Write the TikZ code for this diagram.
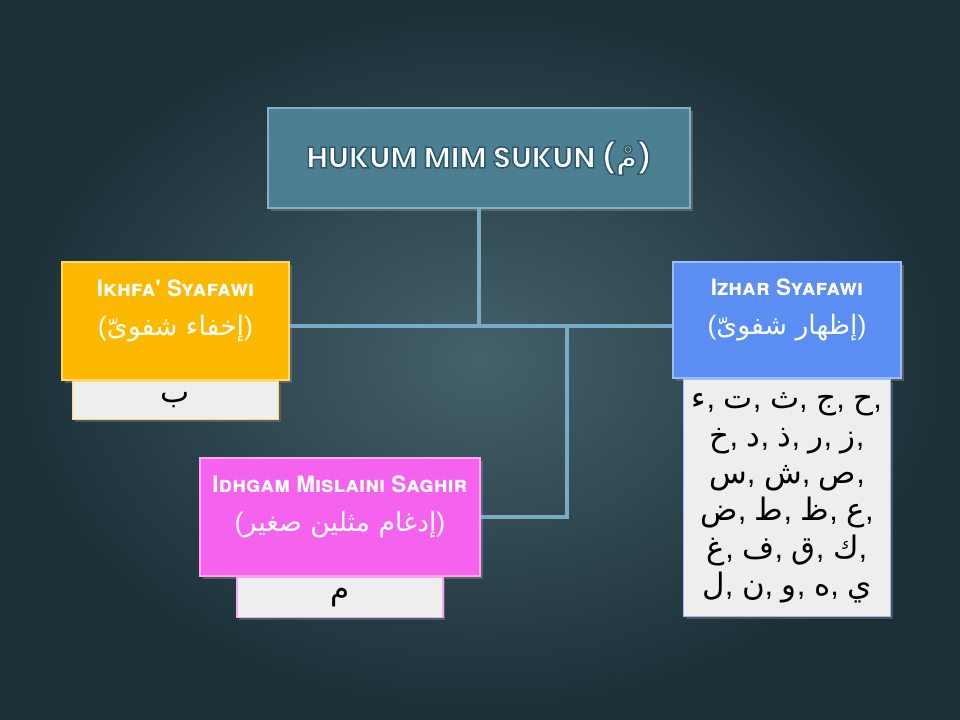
\documentclass[tikz,border=0pt]{standalone}
\usepackage{fontspec}
\usetikzlibrary{positioning,shadows}
\TeXXeTstate=1
\setmainfont{Liberation Sans}
\newfontfamily\arabicfont[Script=Arabic]{DejaVu Sans}
\newfontfamily\titlefont{Poppins}
\newfontfamily\labelfont{TeX Gyre Heros}
\newcommand\harf[1]{{\arabicfont #1}}
% white letters with a dark rim, as in the heading
\newcommand\hollow[1]{\special{pdf:code 2 Tr 1.1 w 0.18 0.35 0.42 RG}#1\special{pdf:code 0 Tr}}
\newcommand\jenis[2]{\raisebox{7pt}[\height][\depth]{%
  \begin{tabular}{@{}c@{}}
  {\labelfont\bfseries\scshape\fontsize{16}{19}\selectfont #1}\\[10pt]
  {\fontsize{19}{22}\selectfont(#2)}
  \end{tabular}}}
\definecolor{bgouter}{HTML}{1B2F36}
\definecolor{bginner}{HTML}{44616C}
\definecolor{titlefill}{HTML}{4D7F92}
\definecolor{titleedge}{HTML}{7FB2C6}
\definecolor{ikhfafill}{HTML}{FDB902}
\definecolor{ikhfaedge}{HTML}{FFD870}
\definecolor{izharfill}{HTML}{5A8EF2}
\definecolor{izharedge}{HTML}{9CBDFA}
\definecolor{idghamfill}{HTML}{F563EE}
\definecolor{idghamedge}{HTML}{FBA6F7}
\definecolor{listfill}{HTML}{EEEEEE}
\definecolor{linkcolor}{HTML}{7AAAC4}
\tikzset{
  hukumbox/.style={draw, line width=1.2pt, inner sep=0pt, align=center,
    text=white, drop shadow={shadow xshift=2pt, shadow yshift=-2pt, opacity=0.55}},
  listbox/.style={draw, line width=0.8pt, fill=listfill, inner sep=0pt,
    align=center, text=black,
    font=\arabicfont\fontsize{22}{26.5}\selectfont,
    drop shadow={shadow xshift=1.5pt, shadow yshift=-1.5pt, opacity=0.45}},
  link/.style={draw=linkcolor, line width=3pt}
}
\begin{document}
\begin{tikzpicture}[x=0.025cm,y=-0.025cm]
  % background
  \shade[inner color=bginner, outer color=bgouter] (0,0) rectangle (960,720);
  \useasboundingbox (0,0) rectangle (960,720);

  % main heading
  \node[hukumbox, fill=titlefill, draw=titleedge, minimum width=10.55cm,
    minimum height=2.5cm, font=\titlefont\bfseries\fontsize{21}{24}\selectfont]
    (hukum) at (479,158)
    {\hollow{HUKUM MIM SUKUN (\harf{مْ})}};

  % the three rules
  \node[hukumbox, fill=ikhfafill, draw=ikhfaedge, minimum width=5.675cm,
    minimum height=2.95cm] (ikhfa) at (175.5,321)
    {\jenis{Ikhfa' Syafawi}{\beginR\harf{إخفاء شفوىّ}\endR}};
  \node[listbox, draw=ikhfaedge, minimum width=5.15cm, minimum height=0.95cm,
    below=0pt of ikhfa] (ikhfalist) {ب};

  \node[hukumbox, fill=izharfill, draw=izharedge, minimum width=5.7cm,
    minimum height=2.9cm] (izhar) at (787,320)
    {\jenis{Izhar Syafawi}{\beginR\harf{إظهار شفوىّ}\endR}};
  \node[listbox, draw=izharedge, minimum width=5.175cm, minimum height=5.925cm,
    font=\fontsize{22}{26.5}\selectfont, below=0pt of izhar] (izharlist)
    {\harf{ء}, \harf{ت}, \harf{ث}, \harf{ج}, \harf{ح},\\
     \harf{خ}, \harf{د}, \harf{ذ}, \harf{ر}, \harf{ز},\\
     \harf{س}, \harf{ش}, \harf{ص},\\
     \harf{ض}, \harf{ط}, \harf{ظ}, \harf{ع},\\
     \harf{غ}, \harf{ف}, \harf{ق}, \harf{ك},\\
     \harf{ل}, \harf{ن}, \harf{و}, \harf{ه}, \harf{ي}};

  \node[hukumbox, fill=idghamfill, draw=idghamedge, minimum width=7cm,
    minimum height=2.95cm] (idgham) at (340,517)
    {\jenis{Idhgam Mislaini Saghir}{\beginR\harf{إدغام مثلين صغير}\endR}};
  \node[listbox, draw=idghamedge, minimum width=5.15cm, minimum height=1cm,
    below=0pt of idgham] (idghamlist) {م};

  % connectors
  \coordinate (hub) at (hukum.south |- 0,326);
  \coordinate (split) at (567,326);
  \draw[link] (hukum.south) -- (hub);
  \draw[link] (ikhfa.east |- hub) -- (izhar.west |- hub);
  \draw[link] (split) |- (idgham.east);
\end{tikzpicture}
\end{document}
